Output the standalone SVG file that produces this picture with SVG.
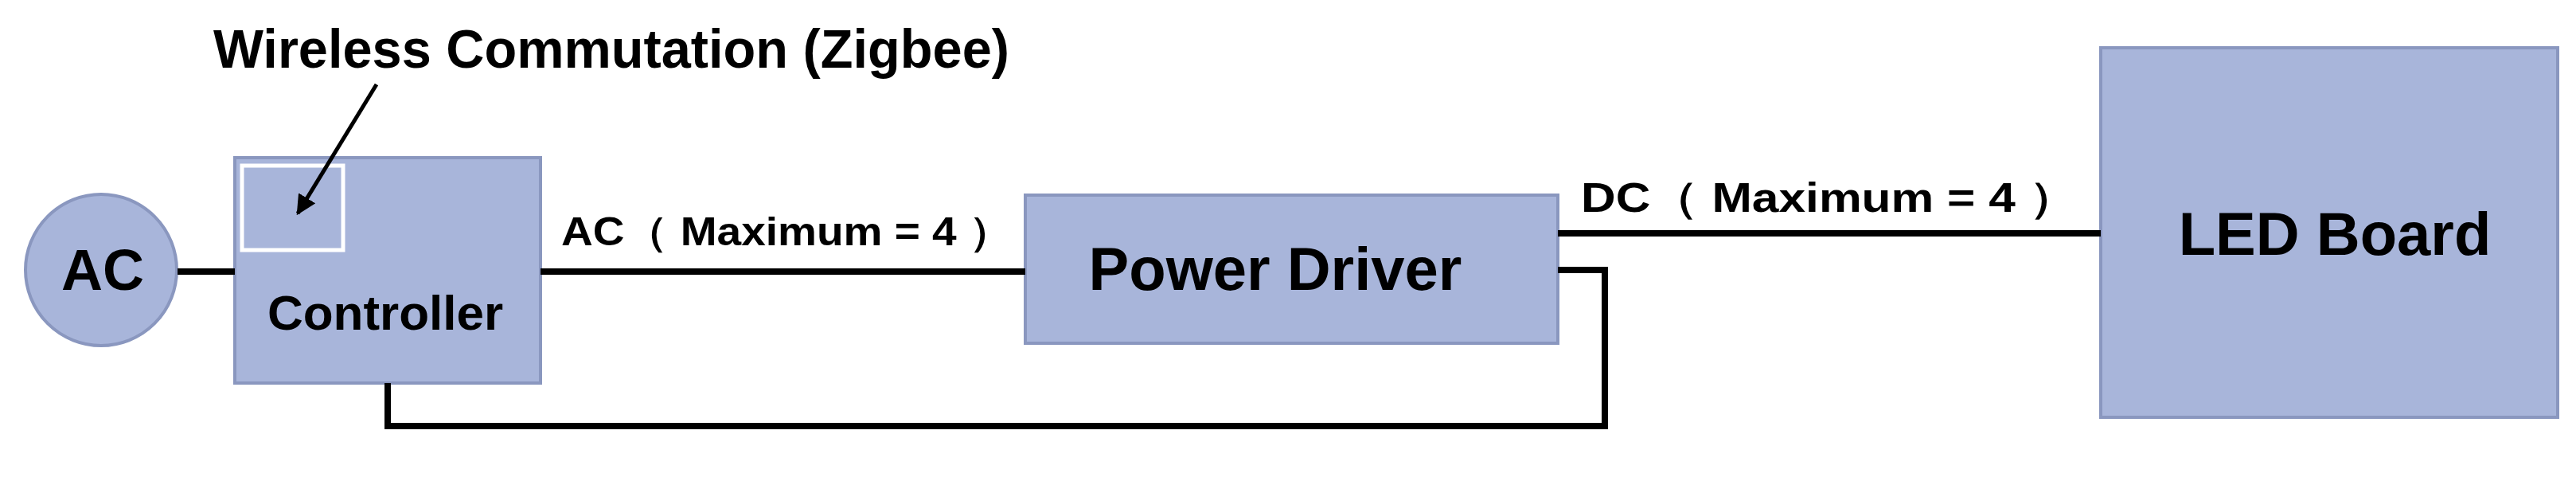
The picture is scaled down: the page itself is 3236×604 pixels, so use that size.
<svg xmlns="http://www.w3.org/2000/svg" width="3236" height="604" viewBox="0 0 3236 604">
<defs>
<style>
.n{fill:#a8b5da;stroke:#8a97bf;stroke-width:4}
.t{font-family:"Liberation Sans",Arial,sans-serif;font-weight:bold;fill:#000}
.w{fill:none;stroke:#000;stroke-width:8}
</style>
<marker id="ah" viewBox="0 0 10 10" refX="9" refY="5" markerWidth="5" markerHeight="5" orient="auto" markerUnits="strokeWidth"><path d="M0,0L10,5L0,10z" fill="#000"/></marker>
</defs>
<rect width="3236" height="604" fill="#fff"/>
<g id="ac"><circle class="n" cx="127" cy="339" r="95"/><text class="t" x="129" y="364" font-size="72" text-anchor="middle">AC</text></g>
<g id="controller"><rect class="n" x="295" y="198" width="384" height="283"/><rect x="304" y="208" width="127" height="106" fill="none" stroke="#fff" stroke-width="5"/><text class="t" x="484" y="414" font-size="62" text-anchor="middle">Controller</text></g>
<g id="wireless"><text class="t" x="268" y="85" font-size="68" textLength="1000" lengthAdjust="spacingAndGlyphs">Wireless Commutation (Zigbee)</text></g>
<g id="driver"><rect class="n" x="1288" y="245" width="669" height="186"/><text class="t" x="1602" y="364" font-size="76" text-anchor="middle">Power Driver</text></g>
<g id="led"><rect class="n" x="2639" y="60" width="574" height="464"/><text class="t" x="2933" y="320" font-size="76" text-anchor="middle">LED Board</text></g>
<g id="connectors">
<line class="w" x1="223" y1="341" x2="295" y2="341"/>
<line class="w" x1="679" y1="341" x2="1288" y2="341"/>
<line class="w" x1="1957" y1="293" x2="2639" y2="293"/>
<polyline class="w" points="1957,339 2016,339 2016,535 487,535 487,481"/>
<line x1="473" y1="106" x2="374" y2="268" stroke="#000" stroke-width="5" marker-end="url(#ah)"/>
<text class="t" x="705" y="308" font-size="50" textLength="567" lengthAdjust="spacingAndGlyphs">AC（ Maximum = 4 ）</text>
<text class="t" x="1986" y="266" font-size="52" textLength="623" lengthAdjust="spacingAndGlyphs">DC（ Maximum = 4 ）</text>
</g>
</svg>
